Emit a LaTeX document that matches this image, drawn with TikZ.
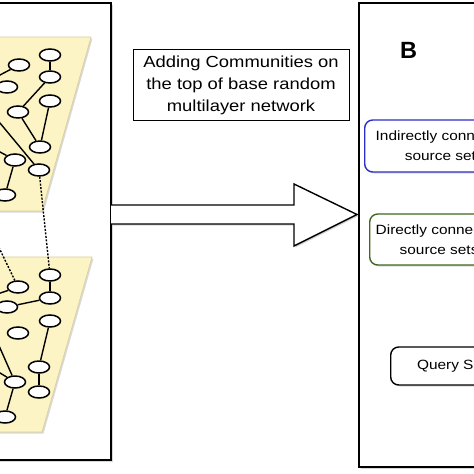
\documentclass[tikz,border=0pt]{standalone}
\usepackage{fontspec}
\setmainfont{Liberation Sans}
\newfontfamily\labelfont[FakeStretch=1.15]{Liberation Sans}
\usetikzlibrary{shapes.geometric, shadows}
\definecolor{layerfill}{RGB}{252,244,196}
\definecolor{layeredge}{RGB}{218,206,150}
\definecolor{indirblue}{RGB}{45,45,200}
\definecolor{dirgreen}{RGB}{60,105,30}

\begin{document}
\begin{tikzpicture}[x=1pt, y=-1pt,
    vertex/.style={draw, shape=ellipse, fill=white, line width=1.5pt, minimum width=21pt, minimum height=12pt, inner sep=0pt},
    link/.style={line width=1.4pt},
    interlink/.style={line width=1.4pt, dash pattern=on 2pt off 1.5pt},
    softshadow/.style={drop shadow={shadow xshift=1.5pt, shadow yshift=-1.5pt, opacity=0.3}},
    panel/.style={draw, fill=white, line width=1.8pt, softshadow},
    layer/.style={fill=layerfill, draw=layeredge, line width=0.6pt, softshadow},
    setbox/.style={draw, fill=white, rounded corners=8pt, line width=1.4pt, align=center, anchor=west, font=\labelfont\fontsize{13.4}{20}\selectfont, softshadow}
  ]
    \useasboundingbox (0,0) rectangle (474,474);
    \clip (0,0) rectangle (474,474);
    \fill[white] (0,0) rectangle (474,474);

    % panels
    \draw[panel] (-20,3) rectangle (111,460);
    \draw[panel] (359,3) rectangle (520,467);

    % layers
    \draw[layer] (-60,37) -- (91,37) -- (42,211) -- (-20,211) -- cycle;
    \draw[layer] (-60,257) -- (92,257) -- (42,432) -- (-20,432) -- cycle;

    % upper layer
    \node(t1)[vertex] at (50,55) {};
    \node(t2)[vertex] at (19,65) {};
    \node(t3)[vertex] at (50,77) {};
    \node(t4)[vertex] at (7,87) {};
    \node(t5)[vertex] at (50,101) {};
    \node(t6)[vertex] at (18,112) {};
    \node(t7)[vertex] at (40,147) {};
    \node(t8)[vertex] at (15,160) {};
    \node(t9)[vertex] at (39,170) {};
    \node(t10)[vertex] at (5,195) {};
    \coordinate(t2l) at (-20,85.5);
    \coordinate(t9l) at (-20,99);
    \coordinate(t8l) at (-15,144);

    % lower layer
    \node(b1)[vertex] at (50,275) {};
    \node(b2)[vertex] at (18,287) {};
    \node(b3)[vertex] at (50,298) {};
    \node(b4)[vertex] at (7,307) {};
    \node(b5)[vertex] at (50,321) {};
    \node(b6)[vertex] at (18,333) {};
    \node(b7)[vertex] at (39,367) {};
    \node(b8)[vertex] at (15,382) {};
    \node(b9)[vertex] at (39,392) {};
    \node(b10)[vertex] at (5,417) {};
    \coordinate(b2l) at (-20,300);
    \coordinate(b2d) at (-10,229);
    \coordinate(b8l) at (-15,314);
    \coordinate(b8m) at (-15,364);

    \draw[link] (t1) -- (t3);
    \draw[link] (t3) -- (t6);
    \draw[link] (t5) -- (t7);
    \draw[link] (t6) -- (t7);
    \draw[link] (t2) -- (t2l);
    \draw[link] (t9) -- (t9l);
    \draw[link] (t8) -- (t8l);
    \draw[link] (t8) -- (t10);

    \draw[link] (b1) -- (b3);
    \draw[link] (b3) -- (b4);
    \draw[link] (b2) -- (b2l);
    \draw[link] (b5) -- (b7);
    \draw[link] (b7) -- (b9);
    \draw[link] (b8) -- (b8l);
    \draw[link] (b8) -- (b8m);
    \draw[link] (b8) -- (b10);

    \draw[interlink] (t9) -- (b1);
    \draw[interlink] (b2) -- (b2d);

    % middle
    \node(adding)[draw, line width=0.9pt, minimum width=216pt, minimum height=71pt, align=center,
        font=\labelfont\fontsize{16}{22}\selectfont] at (241,85)
        {Adding Communities on\\the top of base random\\multilayer network};
    \draw[fill=white, line width=1.4pt, softshadow] (111,205) -- (294,205) -- (294,184) -- (357,214.5)
        -- (294,246) -- (294,224) -- (111,224);

    % right panel
    \node(B)[anchor=base west, inner sep=0pt, font=\bfseries\fontsize{23.5}{28}\selectfont] at (400,58) {B};
    \node(indirect)[setbox, draw=indirblue, inner xsep=11pt, minimum height=52pt] at (364,146)
        {Indirectly connected\\source sets};
    \node(direct)[setbox, draw=dirgreen, inner xsep=6pt, minimum height=51pt] at (369,239.5)
        {Directly connected\\source sets};
    \node(query)[setbox, minimum width=122pt, minimum height=38pt] at (390,366) {Query Set};
\end{tikzpicture}
\end{document}
